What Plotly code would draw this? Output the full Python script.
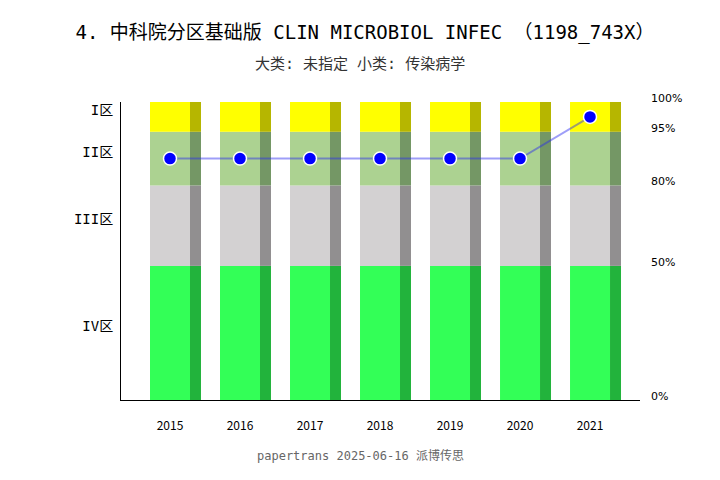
import plotly.graph_objects as go
import numpy as np

# data
years = [2015, 2016, 2017, 2018, 2019, 2020, 2021]
zone_names = ["IV区", "III区", "II区", "I区"]
zone_heights = [45, 27, 18, 10]          # display height of each band
zone_pct = ["0%", "50%", "80%", "95%", "100%"]
year_zone = [2, 2, 2, 2, 2, 2, 1]         # 1 = I区, 2 = II区 ...

main_colors = ["#33ff57", "#d3d1d2", "#acd291", "#ffff00"]
side_colors = ["#22b33c", "#918f90", "#749765", "#b6b600"]

bounds = np.concatenate([[0], np.cumsum(zone_heights)])
centers = (bounds[:-1] + bounds[1:]) / 2
# zone index -> band center (I区 is the top band)
dot_y = [centers[len(zone_names) - z] for z in year_zone]

fig = go.Figure()
for k in range(len(zone_names)):
    base = [bounds[k]] * len(years)
    h = [zone_heights[k]] * len(years)
    fig.add_trace(go.Bar(x=years, y=h, base=base, width=0.5714, offset=-0.2857,
                         marker=dict(color=main_colors[k], line_width=0),
                         showlegend=False, hoverinfo="skip"))
    fig.add_trace(go.Bar(x=years, y=h, base=base, width=0.157, offset=0.2857,
                         marker=dict(color=side_colors[k], line_width=0),
                         showlegend=False, hoverinfo="skip"))

fig.add_trace(go.Scatter(x=years, y=dot_y, mode="lines+markers",
                         line=dict(color="rgba(40,40,240,0.45)", width=2),
                         marker=dict(color="#0000ff", size=13,
                                     line=dict(color="white", width=1.5)),
                         showlegend=False))

# right-hand percentage axis
fig.add_trace(go.Scatter(x=[years[0]], y=[0], yaxis="y2", mode="markers",
                         marker=dict(opacity=0), showlegend=False, hoverinfo="skip"))

# page body adds an 8px margin, so everything is placed 8px up/left
mono = "DejaVu Sans Mono, Noto Sans CJK SC"
fig.update_layout(
    width=720, height=480,
    margin=dict(l=113, r=88, t=94, b=88, autoexpand=False),
    plot_bgcolor="white", paper_bgcolor="white",
    barmode="overlay",
    font=dict(family="Noto Sans CJK SC", color="black"),
    title=dict(text="4. 中科院分区基础版 CLIN MICROBIOL INFEC （1198_743X）",
               x=357 / 720, xanchor="center", xref="container",
               y=1 - 24 / 480, yanchor="middle", yref="container",
               font=dict(family=mono, size=19, color="black")),
    xaxis=dict(range=[years[0] - 0.7, years[-1] + 0.714], tickvals=years,
               ticktext=[str(y) for y in years], showgrid=False, zeroline=False,
               showline=True, linecolor="black", linewidth=1, ticks="",
               automargin=False, ticklabelstandoff=15,
               tickfont=dict(family="Noto Sans CJK SC", size=12)),
    yaxis=dict(range=[0, 100], tickvals=list(centers), ticktext=zone_names,
               showgrid=False, zeroline=False, showline=True, linecolor="black",
               linewidth=1, ticks="", automargin=False, ticklabelshift=-7,
               ticklabelstandoff=4, tickfont=dict(family=mono, size=14)),
    yaxis2=dict(range=[0, 100], overlaying="y", side="right",
                tickvals=list(bounds), ticktext=zone_pct, showgrid=False,
                zeroline=False, showline=False, ticks="", automargin=False,
                ticklabelshift=-4, ticklabelstandoff=10,
                tickfont=dict(family="DejaVu Sans", size=11)),
)

fig.add_annotation(text="大类: 未指定 小类: 传染病学", xref="paper", yref="paper",
                   x=(360 - 121) / 519, y=1, yanchor="middle", yshift=38,
                   showarrow=False,
                   font=dict(family=mono, size=15, color="#333333"))
fig.add_annotation(text="papertrans 2025-06-16 派博传思", xref="paper", yref="paper",
                   x=(360 - 121) / 519, y=0, yanchor="middle", yshift=-55,
                   showarrow=False,
                   font=dict(family=mono, size=12, color="#666666"))

fig.write_html("out.html")
